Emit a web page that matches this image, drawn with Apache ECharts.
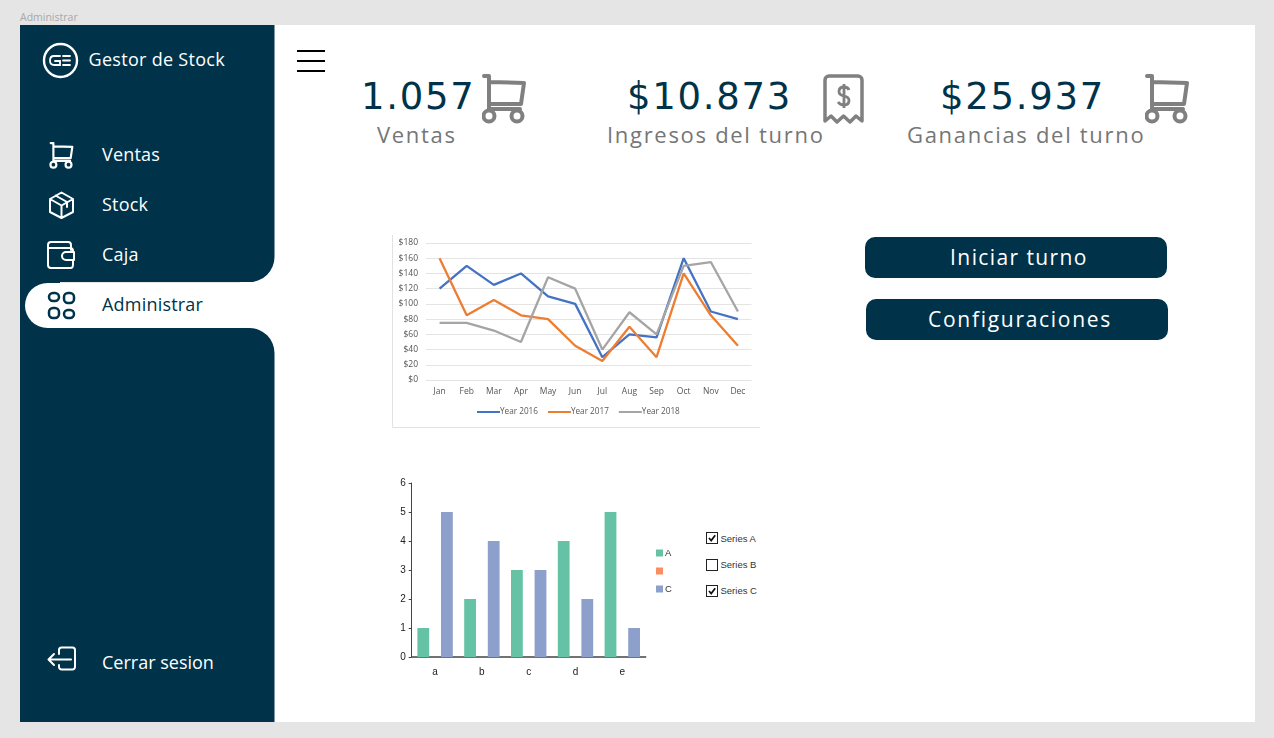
<!DOCTYPE html>
<html>
<head>
<meta charset="utf-8">
<title>Administrar</title>
<script src="https://cdn.jsdelivr.net/npm/echarts@6/dist/echarts.min.js"></script>
<style>
html,body{margin:0;padding:0;background:#e5e5e5;width:1274px;height:738px;overflow:hidden;font-family:"Open Sans",sans-serif}
.abs{position:absolute;white-space:nowrap}
#page{position:absolute;left:240px;top:25px;width:1015px;height:697px;background:#fff}
#frame{position:absolute;left:0;top:0}
.menu{color:#fff;font-size:18px;letter-spacing:.2px;line-height:24px}
.num{color:#00334a;font-size:37px;line-height:44px;font-family:"DejaVu Sans",sans-serif;letter-spacing:1.700px}
.lab{color:#767676;font-size:22px;line-height:28px;letter-spacing:1.700px}
.btn{background:#00334a;color:#fff;border-radius:10px;text-align:center;font-size:21px;line-height:41px;height:41px;width:302px}
.chk{width:10px;height:10px;border:1px solid #222;background:#fff}
.chklab{font-family:"Liberation Sans",sans-serif;font-size:9.500px;color:#333;line-height:12px}
#lineChart{position:absolute;left:392px;top:235px;width:368px;height:193px}
#barChart{position:absolute;left:392px;top:475px;width:310px;height:205px}
</style>
</head>
<body>
<div class="abs" style="left:20px;top:11px;font-size:10.500px;line-height:12px;color:#a8a8a8">Administrar</div>
<div id="page"></div>

<svg id="frame" width="1274" height="738" viewBox="0 0 1274 738">
  <defs>
    <symbol id="cart" viewBox="0 0 44 50">
      <g fill="none" stroke="currentColor" stroke-width="4" stroke-linecap="round" stroke-linejoin="round">
        <path d="M2 2H7V35H38M7 8L42 9L39 30H7"/>
        <circle cx="7" cy="42" r="5.500"/><circle cx="35" cy="42" r="5.500"/>
      </g>
    </symbol>
  </defs>
  <path fill="#00334a" d="M20 25H274.500V257A25 25 0 0 1 249.500 282H20ZM20 282H60V328H20ZM20 328H249.500A25 25 0 0 1 274.500 353V722H20Z"/>
  <path fill="#fff" d="M47.500 283H275V328H47.500A22.500 22.500 0 0 1 47.500 283Z"/>
  <!-- logo -->
  <g fill="none" stroke="#fff">
    <circle cx="60.500" cy="60.500" r="16.500" stroke-width="2.400"/>
    <path stroke-width="1.800" stroke-linecap="round" d="M60 56H54Q50 56 50 60.500Q50 65 54 65H60V61H55M70 56H63M63 60.500H70M70 65H63"/>
  </g>
  <!-- sidebar icons -->
  <use href="#cart" x="49" y="142" width="25" height="27" style="color:#fff"/>
  <g fill="none" stroke="#fff" stroke-width="2" stroke-linejoin="round" stroke-linecap="round">
    <path d="M61.500 192.500L73 199V212L61.500 218L50 212V199ZM50 199L61.500 205.500L73 199M61.500 205.500V218M55.500 195.500L67 202V207"/>
    <path d="M71 250V245A3 3 0 0 0 68 242H51A3 3 0 0 0 48 245V265A3 3 0 0 0 51 268H71A3 3 0 0 0 73 265V260M48 248H70A3 3 0 0 1 73 251V252M66 252H74V260H66A4 4 0 0 1 66 252Z"/>
    <path d="M59 654V650A2.500 2.500 0 0 1 61.500 647.500H72.500A2.500 2.500 0 0 1 75 650V667A2.500 2.500 0 0 1 72.500 669.500H61.500A2.500 2.500 0 0 1 59 667V665M49 659.500H71M54 654L48.500 659.500L54 665"/>
  </g>
  <g fill="none" stroke="#00334a" stroke-width="2.500">
    <rect x="49" y="293" width="10" height="8" rx="4"/><rect x="64" y="293" width="10" height="10" rx="4"/>
    <rect x="49" y="308" width="10" height="10" rx="4"/><rect x="64" y="310" width="10" height="8" rx="4"/>
  </g>
  <!-- hamburger -->
  <g stroke="#000" stroke-width="2.200">
    <path d="M297 51H325M297 61H325M297 71H325"/>
  </g>
  <!-- kpi icons -->
  <use href="#cart" x="482" y="74" width="44" height="50" style="color:#808080"/>
  <use href="#cart" x="1145" y="74" width="44" height="50" style="color:#808080"/>
  <g fill="none" stroke="#808080" stroke-width="3.500" stroke-linejoin="round">
    <path d="M825 121V80A4 4 0 0 1 829 76H858A4 4 0 0 1 862 80V121L856 116L850 122L843.500 116L837 122L831 116Z"/>
    <path stroke-width="2.800" d="M849 90Q848 87 844 87Q839 87 839 91.500Q839 95 844 96Q849 97 849 100.500Q849 105 844 105Q840 105 838 102M844 84V108"/>
  </g>
  <!-- frame of the line chart -->
  <path fill="none" stroke="#e2e2e2" d="M392.500 235V427.500H760"/>
</svg>

<div class="abs" style="left:88.500px;top:47px;color:#fff;font-size:18px;line-height:25px;letter-spacing:.3px">Gestor de Stock</div>
<div class="abs menu" style="left:102px;top:142px">Ventas</div>
<div class="abs menu" style="left:102px;top:192px">Stock</div>
<div class="abs menu" style="left:102px;top:242px">Caja</div>
<div class="abs menu" style="left:102px;top:292px;color:#00334a">Administrar</div>
<div class="abs menu" style="left:102px;top:650px;letter-spacing:0">Cerrar sesion</div>

<div class="abs num" style="left:361px;top:75px">1.057</div>
<div class="abs num" style="left:627px;top:75px">$10.873</div>
<div class="abs num" style="left:940px;top:75px">$25.937</div>
<div class="abs lab" style="left:377px;top:120px">Ventas</div>
<div class="abs lab" style="left:607px;top:120px">Ingresos del turno</div>
<div class="abs lab" style="left:907px;top:120px">Ganancias del turno</div>

<div class="abs btn" style="left:865px;top:237px;letter-spacing:1.400px;text-indent:6px">Iniciar turno</div>
<div class="abs btn" style="left:866px;top:299px;letter-spacing:1.700px;text-indent:6px">Configuraciones</div>

<div id="lineChart"></div>
<div id="barChart"></div>

<div class="abs chk" style="left:706px;top:532px"><svg width="10" height="10" viewBox="0 0 10 10" style="display:block"><path d="M2 5L4.200 7.500L8.200 2.300" fill="none" stroke="#111" stroke-width="1.800"/></svg></div>
<div class="abs chklab" style="left:720.500px;top:533px">Series A</div>
<div class="abs chk" style="left:706px;top:559px"></div>
<div class="abs chklab" style="left:720.500px;top:559px">Series B</div>
<div class="abs chk" style="left:706px;top:585px"><svg width="10" height="10" viewBox="0 0 10 10" style="display:block"><path d="M2 5L4.200 7.500L8.200 2.300" fill="none" stroke="#111" stroke-width="1.800"/></svg></div>
<div class="abs chklab" style="left:720.500px;top:585px">Series C</div>

<script>
var months=['Jan','Feb','Mar','Apr','May','Jun','Jul','Aug','Sep','Oct','Nov','Dec'];
var year2016=[120,150,125,140,110,100,30,60,56,160,90,80];
var year2017=[160,85,105,85,80,45,25,70,30,140,85,45];
var year2018=[75,75,65,50,135,120,40,89,60,150,155,90];

var letters=['a','b','c','d','e'];
var seriesA=[1,2,3,4,5];
var seriesB=[];
var seriesC=[5,4,3,2,1];

function lineSerie(name,values,color){
    return {
        name:name,
        type:'line',
        data:values,
        symbol:'none',
        lineStyle:{color:color,width:2.3},
        itemStyle:{color:color}
    };
}

var lineChart=echarts.init(document.getElementById('lineChart'),null,{renderer:'canvas'});
lineChart.setOption({
    animation:false,
    grid:{left:34,right:8.5,top:8,height:137},
    legend:{
        left:80,
        top:168,
        itemWidth:23,
        itemHeight:2,
        itemGap:10,
        icon:'rect',
        textStyle:{color:'#595959',fontSize:8.2,fontFamily:'Open Sans',padding:[0,0,0,-5]},
        data:['Year 2016','Year 2017','Year 2018']
    },
    xAxis:{
        type:'category',
        data:months,
        boundaryGap:true,
        axisLine:{show:false},
        axisTick:{show:false},
        axisLabel:{color:'#555',fontSize:8.5,fontFamily:'Open Sans',margin:7,interval:0}
    },
    yAxis:{
        type:'value',
        min:0,
        max:180,
        interval:20,
        axisLine:{show:false},
        axisTick:{show:false},
        axisLabel:{color:'#555',fontSize:8.5,fontFamily:'Open Sans',margin:8,formatter:'${value}'},
        splitLine:{lineStyle:{color:'#e4e4e4',width:1}}
    },
    series:[
        lineSerie('Year 2016',year2016,'#4472c4'),
        lineSerie('Year 2017',year2017,'#ed7d31'),
        lineSerie('Year 2018',year2018,'#a5a5a5')
    ]
});

function barSerie(name,values,color){
    return {
        name:name,
        type:'bar',
        data:values,
        barWidth:11.8,
        barGap:'0%',
        itemStyle:{color:color}
    };
}

var barChart=echarts.init(document.getElementById('barChart'),null,{renderer:'canvas'});
barChart.setOption({
    animation:false,
    grid:{left:19.7,top:8,width:234,height:174},
    legend:{
        left:259,
        top:68,
        orient:'vertical',
        icon:'rect',
        itemWidth:7,
        itemHeight:7,
        itemGap:9.500,
        textStyle:{color:'#333',fontSize:9.5,fontFamily:'Liberation Sans',padding:[0,0,0,-3]},
        formatter:function(name){return name=='B'?'':name;},
        data:['A','B','C']
    },
    xAxis:{
        type:'category',
        data:letters,
        axisLine:{lineStyle:{color:'#444',width:1.5}},
        axisTick:{show:false},
        axisLabel:{color:'#222',fontSize:10,fontFamily:'Liberation Sans',margin:10}
    },
    yAxis:{
        type:'value',
        min:0,
        max:6,
        interval:1,
        axisLine:{show:true,lineStyle:{color:'#444',width:1}},
        axisTick:{show:true,length:3,lineStyle:{color:'#444'}},
        axisLabel:{color:'#222',fontSize:10,fontFamily:'Liberation Sans',margin:6},
        splitLine:{show:false}
    },
    series:[
        barSerie('A',seriesA,'#66c2a5'),
        barSerie('B',seriesB,'#fc8d62'),
        barSerie('C',seriesC,'#8da0cb')
    ]
});
</script>
</body>
</html>
